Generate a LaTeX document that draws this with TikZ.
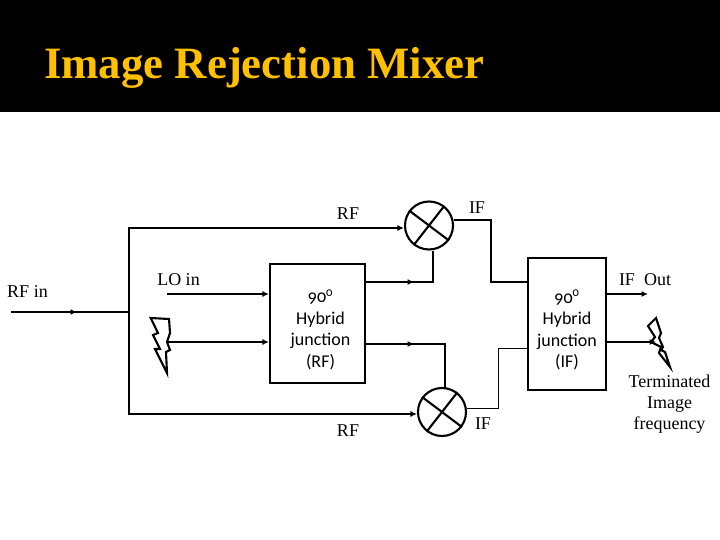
\documentclass[tikz,border=0pt]{standalone}
\usepackage{fontspec}
\setmainfont{Liberation Serif}
\newfontfamily\boxfont[Numbers=OldStyle]{Carlito}
\usetikzlibrary{arrows.meta,decorations.markings}
\definecolor{titlegold}{HTML}{FFC000}
\tikzset{
  wire/.style={line width=2.1pt,black,line join=miter},
  thinwire/.style={line width=1pt,black},
  tip/.style={-{Latex[length=6.5pt,width=6pt]}},
  arrowat/.style={postaction={decorate},decoration={markings,mark=at position #1 with {\arrow{Latex[length=6.5pt,width=6pt]}}}},
  hybrid/.style={draw,line width=2.1pt,fill=white,align=center,font=\boxfont\fontsize{18}{21.5}\selectfont,inner sep=0pt},
  mixer/.style={draw,circle,line width=2.1pt,minimum size=48pt,inner sep=0pt},
  label/.style={font=\fontsize{18}{21}\selectfont,inner sep=0pt,align=center},
  bolt/.style={line width=2.1pt,line join=miter,fill=white},
}
\begin{document}
\begin{tikzpicture}[x=1pt,y=-1pt]
\useasboundingbox (0,0) rectangle (720,540);
\fill[black] (0,0) rectangle (720,112.5);
\node[anchor=base west,inner sep=0pt,text=titlegold,font=\bfseries\fontsize{44.8}{50}\selectfont] (title) at (44,79) {Image Rejection Mixer};

\node[hybrid,minimum width=95pt,minimum height=119pt] (rfbox) at (317.5,323.5) {\rule{0pt}{25pt}\hspace*{6pt}90\textsuperscript{0}\\\hspace*{6pt}Hybrid\\\hspace*{6pt}junction\\\hspace*{6pt}(RF)};
\node[hybrid,minimum width=78pt,minimum height=132pt] (ifbox) at (567,324) {\rule{0pt}{25pt}90\textsuperscript{0}\\Hybrid\\junction\\(IF)};
\node[mixer] (mixa) at (429,225.5) {};
\node[mixer] (mixb) at (442,412) {};
\foreach \m in {mixa,mixb}{
  \draw[line width=2.1pt] (\m.143) -- (\m.323);
  \draw[line width=2.1pt] (\m.232) -- (\m.52);
}

\coordinate (rfstart) at (11,312);
\coordinate (split) at (129,312);
\coordinate (lostart) at (167,294);
\coordinate (loend) at (rfbox.west |- lostart);
\coordinate (boltaout) at (168,342);
\coordinate (rfboxlow) at (rfbox.west |- boltaout);
\coordinate (ifoutend) at (648,294);
\coordinate (boltbin) at (656,342);

% lightning loads
\draw[bolt] (150.7,318) -- (169,319) -- (170,333) -- (167,342) -- (170,350) -- (166,352) -- (167,373) -- (155,349) -- (160,349) -- (153,335) -- (158,333) -- cycle;
\draw[bolt] (648,326) -- (656,318) -- (661,333) -- (659,338) -- (663,347) -- (661,350) -- (665,352) -- (670,367) -- (659,353) -- (661,347) -- (651,342) -- (655,337) -- cycle;

\draw[wire,arrowat=66pt] (rfstart) -- (split);
\draw[wire,tip] (split) |- (mixa.west |- 0,228);
\draw[wire,tip] (split) |- (mixb.west |- 0,414);
\draw[wire,tip] (lostart) -- (loend);
\draw[wire,tip] (boltaout) -- (rfboxlow);

\draw[wire,arrowat=48pt] (rfbox.east |- 0,282) -| (mixa.south -| 433,0);
\draw[wire,arrowat=48pt] (rfbox.east |- 0,344) -| (445,388.5);

\draw[wire] (mixa.east |- 0,220) -| (491,282) -- (ifbox.west |- 0,282);
\draw[thinwire] (mixb.east |- 0,408) -| (498,348) -- (ifbox.west |- 0,348);

\draw[wire,tip] (ifbox.east |- ifoutend) -- (ifoutend);
\draw[wire,tip] (ifbox.east |- boltbin) -- (boltbin);

\node[label] (lrfin) at (27.5,292) {RF in};
\node[label] (llo) at (178.5,280) {LO in};
\node[label] (lrfa) at (348,214) {RF};
\node[label] (lrfb) at (348,431) {RF};
\node[label] (lifa) at (477,208) {IF};
\node[label] (lifb) at (483,424) {IF};
\node[label] (lifout) at (645,280) {IF\ \ Out};
\node[label] (lterm) at (669.5,404.5) {Terminated\\Image\\frequency};
\end{tikzpicture}
\end{document}
